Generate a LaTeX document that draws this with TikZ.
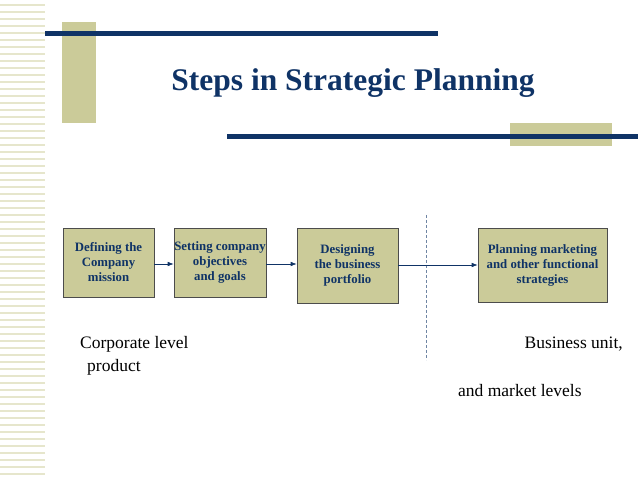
\documentclass[tikz,border=0pt]{standalone}
\usepackage{fontspec}
\setmainfont{Liberation Serif}
\usetikzlibrary{arrows.meta}
\definecolor{navy}{HTML}{0F3366}
\definecolor{olive}{HTML}{CBCB99}
\definecolor{stripe}{HTML}{E6E6CC}
\begin{document}
\begin{tikzpicture}[x=1pt,y=-1pt,
  stepbox/.style={draw=black!70,fill=olive,line width=0.6pt,inner sep=0pt,align=center,font=\bfseries\fontsize{12.8}{15}\selectfont,text=navy},
  conn/.style={draw=navy,line width=0.6pt,-{Latex[length=6pt,width=4.5pt]}},
  lbl/.style={font=\fontsize{17.5}{20}\selectfont,anchor=base west,inner sep=0pt}]
\useasboundingbox (0,0) rectangle (638,478);
\foreach \y in {4,11,...,476} \fill[stripe] (0,\y) rectangle (45,\y+2);
\fill[olive] (62,22) rectangle (96,123);
\fill[navy] (45,31) rectangle (438,36);
\fill[olive] (510,123) rectangle (612,146);
\fill[navy] (227,134) rectangle (638,139);
\node[font=\bfseries\fontsize{31.5}{36}\selectfont,text=navy] (title) at (353,83) {Steps in Strategic Planning};
\node[stepbox,minimum width=91pt,minimum height=69pt] (b1) at (108.5,262.5) {Defining the\\Company\\mission};
\node[stepbox,minimum width=92pt,minimum height=69pt] (b2) at (220,262.5) {Setting company\\objectives\\and goals};
\node[stepbox,minimum width=101pt,minimum height=75pt] (b3) at (347.5,265.5) {Designing\\the business\\portfolio};
\node[stepbox,minimum width=129pt,minimum height=74pt] (b4) at (542.5,265) {Planning marketing\\and other functional\\strategies};
\coordinate (dtop) at (426,215);
\coordinate (dbot) at (426,360);
\draw[navy!60,line width=0.4pt,densely dashed] (dtop) -- (dbot);
\draw[conn] (b1.east|-0,264) -- (b2.west|-0,264);
\draw[conn] (b2.east|-0,264) -- (b3.west|-0,264);
\draw[conn] (b3.east|-0,265) -- (b4.west|-0,265);
\node[lbl] (c1) at (80,349) {Corporate level};
\node[lbl] (c2) at (87,372) {product};
\node[lbl,anchor=base east] (c3) at (623,349) {Business unit,};
\node[lbl] (c4) at (458,397) {and market levels};
\end{tikzpicture}
\end{document}
